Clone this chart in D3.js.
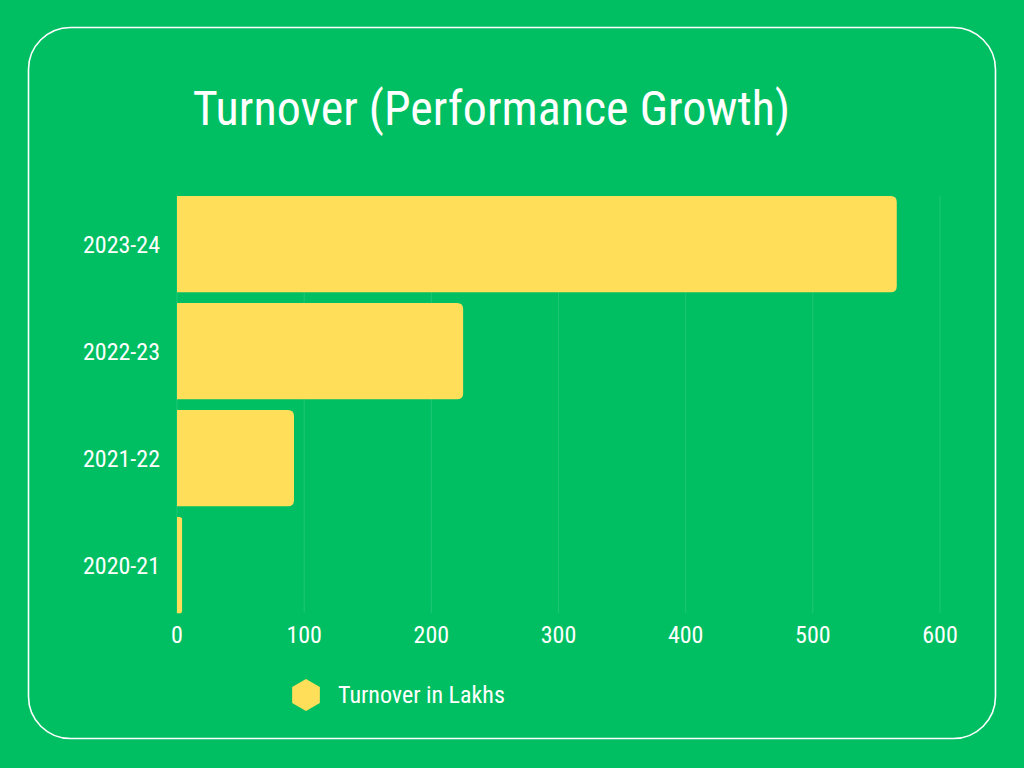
<!DOCTYPE html>
<html>
<head>
<meta charset="utf-8">
<script src="https://cdn.jsdelivr.net/npm/d3@7"></script>
<style>
  html, body { margin: 0; padding: 0; background: #00bf63; }
  svg { display: block; }
  text { font-family: Roboto, "Noto Sans", sans-serif; font-stretch: 75%; fill: #fff; }
</style>
</head>
<body>
<div id="chart"></div>
<script>
var years = ["2023-24", "2022-23", "2021-22", "2020-21"];
var turnover = [566, 225, 92, 4];
var ticks = [0, 100, 200, 300, 400, 500, 600];
var seriesName = "Turnover in Lakhs";

var width = 1024, height = 768;

var svg = d3.select("#chart").append("svg")
    .attr("width", width)
    .attr("height", height);

svg.append("rect")
    .attr("width", width).attr("height", height)
    .attr("fill", "#00bf63");

// white rounded frame
svg.append("rect")
    .attr("x", 28.5).attr("y", 27.5)
    .attr("width", 967).attr("height", 711)
    .attr("rx", 42).attr("ry", 42)
    .attr("fill", "none")
    .attr("stroke", "#fff")
    .attr("stroke-width", 1.6);

svg.append("text")
    .attr("x", 491.5).attr("y", 125)
    .attr("text-anchor", "middle")
    .style("font-size", "48px")
    .text("Turnover (Performance Growth)");

var x = d3.scaleLinear().domain([0, 600]).range([177, 940]);
var y = d3.scaleBand().domain(years).range([190.6, 618.6])
    .paddingInner(0.1).paddingOuter(0.05);

// grid
svg.append("g").selectAll("line")
    .data(ticks)
    .enter().append("line")
    .attr("x1", function (d) { return x(d); })
    .attr("x2", function (d) { return x(d); })
    .attr("y1", 196).attr("y2", 613)
    .attr("stroke", "rgba(255,255,255,0.12)")
    .attr("stroke-width", 1);

var data = years.map(function (d, i) { return { year: d, value: turnover[i] }; });

function barPath(d) {
  var x0 = x(0), x1 = x(d.value), y0 = y(d.year), h = y.bandwidth();
  var r = Math.min(6, (x1 - x0) / 2);
  return "M" + x0 + "," + y0 +
    "H" + (x1 - r) +
    "Q" + x1 + "," + y0 + " " + x1 + "," + (y0 + r) +
    "V" + (y0 + h - r) +
    "Q" + x1 + "," + (y0 + h) + " " + (x1 - r) + "," + (y0 + h) +
    "H" + x0 + "Z";
}

svg.append("g").selectAll("path")
    .data(data)
    .enter().append("path")
    .attr("d", barPath)
    .attr("fill", "#ffde59");

// y labels
svg.append("g").selectAll("text")
    .data(years)
    .enter().append("text")
    .attr("x", 160)
    .attr("y", function (d) { return y(d) + y.bandwidth() / 2 + 8.5; })
    .attr("text-anchor", "end")
    .style("font-size", "24px")
    .text(function (d) { return d; });

// x labels
svg.append("g").selectAll("text")
    .data(ticks)
    .enter().append("text")
    .attr("x", function (d) { return x(d); })
    .attr("y", 643)
    .attr("text-anchor", "middle")
    .style("font-size", "24px")
    .text(function (d) { return d; });

// legend
var hex = d3.range(6).map(function (i) {
  var a = Math.PI / 3 * i - Math.PI / 2;
  return [306 + 16 * Math.cos(a), 695 + 16 * Math.sin(a)];
});
svg.append("polygon")
    .attr("points", hex.map(function (p) { return p.join(","); }).join(" "))
    .attr("fill", "#ffde59");

svg.append("text")
    .attr("x", 338).attr("y", 703)
    .style("font-size", "24px")
    .text(seriesName);
</script>
</body>
</html>
